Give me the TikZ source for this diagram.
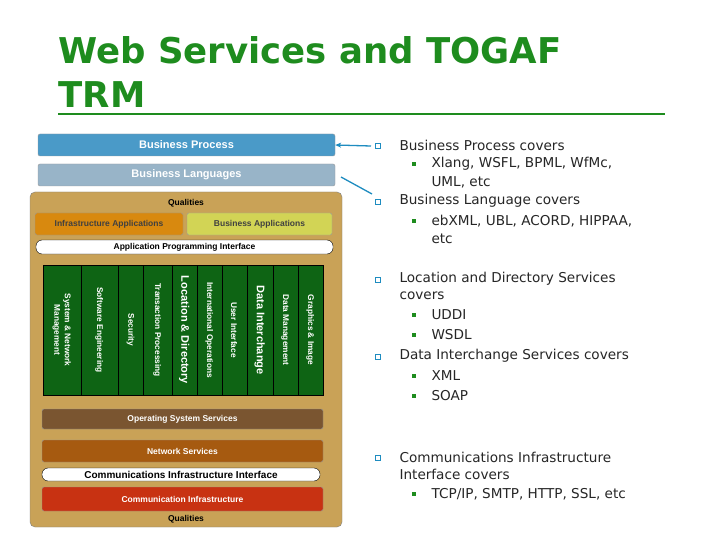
\documentclass[tikz,border=0pt]{standalone}
\usepackage{fontspec}
\setmainfont{DejaVu Sans}
\setsansfont{Liberation Sans}
\usetikzlibrary{arrows.meta}
\definecolor{tgreen}{HTML}{1E8C1E}
\definecolor{bpblue}{HTML}{4A9AC8}
\definecolor{blgray}{HTML}{98B4C8}
\definecolor{tan}{HTML}{C9A257}
\definecolor{infra}{HTML}{D8890F}
\definecolor{busapp}{HTML}{D2D455}
\definecolor{colgreen}{HTML}{0E6414}
\definecolor{osbrown}{HTML}{7A5530}
\definecolor{netbr}{HTML}{A65A10}
\definecolor{commred}{HTML}{C83212}
\definecolor{arrowblue}{HTML}{1E8CC0}
\begin{document}
\begin{tikzpicture}[x=1pt,y=-1pt,
  bar/.style={draw=black!40,rounded corners=2pt,font=\sffamily\bfseries\fontsize{11}{12}\selectfont,text=white},
  small/.style={font=\sffamily\bfseries\fontsize{8.5}{10}\selectfont},
  pill/.style={draw=black,fill=white,rounded corners=6pt,font=\sffamily\bfseries\fontsize{10}{11}\selectfont},
  col/.style={draw=black,fill=colgreen},
  main/.style={anchor=west,font=\fontsize{13.6}{15}\selectfont,text=black!85},
  sub/.style={anchor=west,font=\fontsize{13.6}{15}\selectfont,text=black!85},
  hb/.style={draw=arrowblue,fill=white,line width=0.6pt,minimum size=5pt,inner sep=0pt},
  fb/.style={fill=tgreen,minimum size=4pt,inner sep=0pt}]
\useasboundingbox (0,0) rectangle (720,540);
\fill[white] (0,0) rectangle (720,540);
\node[anchor=west,text=tgreen,font=\bfseries\fontsize{35.5}{40}\selectfont] (t1) at (55,50) {Web Services and TOGAF};
\node[anchor=west,text=tgreen,font=\bfseries\fontsize{35.5}{40}\selectfont] (t2) at (55,95) {TRM};
\draw[tgreen,line width=1.5pt] (58,114) -- (665,114);
% boxes
\node[bar,fill=bpblue,minimum width=297pt,minimum height=22pt] (bp) at (186.5,145) {Business Process};
\node[bar,fill=blgray,minimum width=297pt,minimum height=22pt] (bl) at (186.5,175) {Business Languages};
\node[draw=black!50,fill=tan,rounded corners=5pt,minimum width=312pt,minimum height=335pt] (tan) at (186,359.5) {};
\node[small] (q1) at (186,203) {Qualities};
\node[bar,small,fill=infra,text=black!75,minimum width=148pt,minimum height=22pt] (ia) at (109,224) {Infrastructure Applications};
\node[bar,small,fill=busapp,text=black!75,minimum width=145pt,minimum height=22pt] (ba) at (259.5,224) {Business Applications};
\node[pill,small,minimum width=297pt,minimum height=14pt,inner sep=0pt] (api) at (184.5,247) {Application Programming Interface};
% columns
\foreach \a/\b/\t/\n [count=\i] in {
 42.7/80.7/{\shortstack{System \& Network\\Management}}/c1,
 80.7/118/{Software Engineering}/c2,
 118/143/{Security}/c3,
 143/171.7/{Transaction Processing}/c4,
 171.7/196.7/{\fontsize{11}{12}\selectfont Location \& Directory}/c5,
 196.7/221.7/{International Operations}/c6,
 221.7/246.7/{User Interface}/c7,
 246.7/272.7/{\fontsize{11}{12}\selectfont Data Interchange}/c8,
 272.7/297.7/{Data Management}/c9,
 297.7/323/{Graphics \& Image}/c10} {
 \node[col,minimum width={\b-\a},minimum height=130pt,inner sep=0pt] (\n) at ({(\a+\b)/2},330) {};
 \node[text=white,font=\sffamily\bfseries\fontsize{8.3}{9}\selectfont,rotate=-90] at (\n) {\t};
}
\node[bar,small,fill=osbrown,minimum width=281pt,minimum height=20pt] (os) at (182.5,419) {Operating System Services};
\node[bar,small,fill=netbr,minimum width=281pt,minimum height=22pt] (ns) at (182.5,451) {Network Services};
\node[pill,minimum width=278pt,minimum height=13pt,inner sep=0pt] (cii) at (181,474.5) {Communications Infrastructure Interface};
\node[bar,small,fill=commred,minimum width=281pt,minimum height=24pt] (ci) at (182.5,499) {Communication Infrastructure};
\node[small] (q2) at (186,519) {Qualities};
% bullets
\node[hb] (b1) at (378,146) {};
\node[hb] (b2) at (378,202) {};
\node[hb] (b3) at (378,280) {};
\node[hb] (b4) at (378,357) {};
\node[hb] (b5) at (378,458) {};
\foreach \y in {164,221,315,335,376,396,494} \node[fb] at (414,\y) {};
\coordinate (a1) at (371,146);
\draw[arrowblue,line width=1.3pt,-{Stealth[length=6pt,width=5pt]}] (a1) -- (bp.east);
\coordinate (l2) at (341,177);
\coordinate (l2b) at (372,194);
\draw[arrowblue,line width=1.3pt] (l2b) -- (l2);
\node[main] at (396,145) {Business Process covers};
\node[sub] at (428,164) {Xlang, WSFL, BPML, WfMc,};
\node[sub] at (428,182) {UML, etc};
\node[main] at (396,201) {Business Language covers};
\node[sub] at (428,221) {ebXML, UBL, ACORD, HIPPAA,};
\node[sub] at (428,239) {etc};
\node[main] at (396,279) {Location and Directory Services};
\node[main] at (396,296) {covers};
\node[sub] at (428,315) {UDDI};
\node[sub] at (428,335) {WSDL};
\node[main] at (396,356) {Data Interchange Services covers};
\node[sub] at (428,376) {XML};
\node[sub] at (428,396) {SOAP};
\node[main] at (396,457) {Communications Infrastructure};
\node[main] at (396,474) {Interface covers};
\node[sub] at (428,494) {TCP/IP, SMTP, HTTP, SSL, etc};
\end{tikzpicture}
\end{document}
